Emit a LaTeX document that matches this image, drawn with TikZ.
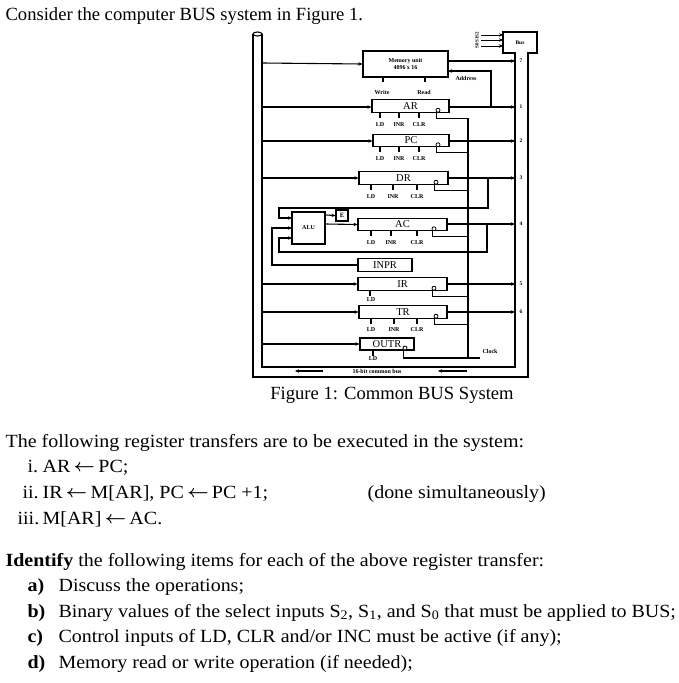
\documentclass[tikz,border=0pt]{standalone}
\usepackage{fontspec}
\setmainfont{Liberation Serif}
\usetikzlibrary{arrows.meta}
\newcommand{\larr}{\,\raisebox{0.1ex}{$\boldsymbol{\leftarrow}$}\,}
\usepackage{amsmath,amssymb,bm}
\begin{document}
\begin{tikzpicture}[x=1pt,y=-1pt,line width=1.1pt,
 reg/.style={draw,rectangle,inner sep=0pt,font=\fontsize{10.5}{10}\selectfont},
 sm/.style={font=\fontsize{6}{6}\selectfont\bfseries,inner sep=0pt},
 num/.style={font=\fontsize{5.5}{5}\selectfont\bfseries,inner sep=0pt},
 ar/.style={-{Stealth[length=4pt,width=3.5pt]}},
 txt/.style={anchor=base west,inner sep=0pt,font=\fontsize{18.6}{20}\selectfont},
 ltxt/.style={txt,xscale=1.075},
 lab/.style={anchor=base west,inner sep=0pt,xscale=1.075,font=\fontsize{18.6}{20}\selectfont\bfseries}]
\useasboundingbox (0,0) rectangle (678,683);
% bus
\draw (253,34) -- (253,377) -- (528,377) -- (528,53);
\draw (262,34) -- (262,367) -- (515,367) -- (515,53);
\draw[fill=white] (257.5,34) ellipse (4.5 and 2);
\node[draw,minimum width=34pt,minimum height=21pt,inner sep=0pt,font=\fontsize{5.5}{5}\selectfont\bfseries] (bus) at (520,42.5) {Bus};
\draw[white,line width=2pt] (516,53) -- (527,53);
\foreach \s/\y in {S2/35,S1/40,S0/46}{
 \node[sm,rotate=90,font=\fontsize{5}{5}\selectfont\bfseries] (\s) at (477,\y) {\s};
 \draw[ar,line width=0.8pt] (481,\y) -- (503,\y);}
% memory
\node[reg,minimum width=85pt,minimum height=26pt,font=\fontsize{6}{7}\selectfont\bfseries,align=center] (mem) at (405.5,64) {Memory unit\\4096 x 16};
\draw (383,77) -- (383,82); \draw (425,77) -- (425,82);
\node[sm] (wr) at (382,92) {Write}; \node[sm] (rd) at (424,92) {Read};
\draw[ar] (262,63) -- (mem.west);
\draw[ar] (448,61) -- (515,61); \node[num] (n7) at (521,61) {7};
\node[sm] (addr) at (466,78) {Address};
% registers
\def\regdef#1#2#3#4#5{\node[reg,minimum width=#4pt,minimum height=12.5pt] (#1) at (#2,#3) {#5};}
\regdef{AR}{410.5}{106}{77}{AR}
\regdef{PC}{411}{140.5}{76}{PC}
\regdef{DR}{403.5}{178}{89}{DR}
\regdef{AC}{402.5}{224.5}{89}{AC}
\node[reg,minimum width=54pt,minimum height=13pt] (INPR) at (385,265) {INPR};
\regdef{IR}{402.5}{284}{89}{IR}
\regdef{TR}{403}{312}{88}{TR}
\node[reg,minimum width=54pt,minimum height=12pt] (OUTR) at (387,344) {OUTR};
\node[draw,minimum width=33pt,minimum height=32pt,inner sep=0pt,font=\fontsize{6}{6}\selectfont\bfseries] (ALU) at (308.5,228) {ALU};
\node[draw,minimum width=12pt,minimum height=11pt,inner sep=0pt,font=\fontsize{6.5}{6}\selectfont\bfseries] (E) at (342,215.5) {E};
% bus inputs / outputs
\foreach \r/\y in {AR/107,PC/141,DR/178,IR/284,TR/312,OUTR/344}{\draw[ar] (262,\y) -- (\r.west |- 0,\y);}
\foreach \r/\y/\n in {AR/107/1,PC/141/2,DR/178/3,AC/224/4,IR/284/5,TR/312/6}{
 \draw[ar] (\r.east |- 0,\y) -- (515,\y); \node[num] (l\n) at (521,\y) {\n};}
\draw[ar] (491,107) -- (491,71) -- (448,71);
% control ticks
\foreach \r/\a/\b/\c/\ly in {AR/380/399/419/125,PC/380/399/419/159,DR/371/393/417/197,AC/371/391/417/243,TR/371/394/417/330}{
 \draw (\a,0 |- \r.south) -- ++(0,5); \draw (\b,0 |- \r.south) -- ++(0,5); \draw (\c,0 |- \r.south) -- ++(0,5);
 \node[sm] at (\a,\ly) {LD}; \node[sm] at (\b,\ly) {INR}; \node[sm] at (\c,\ly) {CLR};}
\draw (370,0 |- IR.south) -- ++(0,5); \node[sm] at (371,300) {LD};
\draw (373,0 |- OUTR.south) -- ++(0,5); \node[sm] at (373,359) {LD};
% clock
\draw (468,118) -- (468,358);
\foreach \x/\b in {438/112.25,438/146.75,436/184.25,434/230.75,434/290.25,436/318.25}{
 \draw[fill=white,line width=0.8pt] (\x,\b-2) circle (2);
 \draw (\x-1.5,\b) -- (\x-1.5,\b+6) -- (468,\b+6);}
\draw[fill=white,line width=0.8pt] (405,348) circle (2);
\draw (403.5,350) -- (403.5,358) -- (480,358);
\node[sm] (clk) at (490,351) {Clock};
% ALU connections
\draw[ar] (488,178) -- (488,208) -- (279,208) -- (279,218) -- (292,218);
\draw[ar] (447,224) -- (487,224) -- (487,252) -- (279,252) -- (279,238) -- (292,238);
\draw[ar] (INPR.west) -- (272,265) -- (272,228) -- (292,228);
\draw[ar] (ALU.east |- 0,215) -- (E.west);
\draw[ar] (ALU.east |- 0,224) -- (AC.west);
% bus caption
\node[sm] (cb) at (377,371) {16-bit common bus};
\draw[ar] (323,371) -- (295,371); \draw[ar] (467,371) -- (438,371);
\node[font=\fontsize{18.6}{20}\selectfont,inner sep=0pt] (cap) at (392,395) {Figure 1: Common BUS System};
% text
\node[txt] (t0) at (5,20) {Consider the computer BUS system in Figure 1.};
\node[ltxt] (t1) at (5,447) {The following register transfers are to be executed in the system:};
\node[ltxt] (t2a) at (27,472) {i.}; \node[ltxt] (t2) at (42,472) {AR\larr PC;};
\node[ltxt] (t3a) at (22,498) {ii.}; \node[ltxt] (t3) at (42,498) {IR\larr M[AR], PC\larr PC +1;};
\node[ltxt] (t3b) at (367,498) {(done simultaneously)};
\node[ltxt] (t4a) at (17,524) {iii.}; \node[ltxt] (t4) at (42,524) {M[AR]\larr AC.};
\node[ltxt] (t5) at (5,566) {\textbf{Identify} the following items for each of the above register transfer:};
\node[lab] (a) at (27,591) {a)}; \node[ltxt] (ta) at (58,591) {Discuss the operations;};
\node[lab] (b) at (27,617) {b)}; \node[ltxt] (tb) at (58,617) {Binary values of the select inputs S\textsubscript{2}, S\textsubscript{1}, and S\textsubscript{0} that must be applied to BUS;};
\node[lab] (c) at (27,642) {c)}; \node[ltxt] (tc) at (58,642) {Control inputs of LD, CLR and/or INC must be active (if any);};
\node[lab] (d) at (27,668) {d)}; \node[ltxt] (td) at (58,668) {Memory read or write operation (if needed);};
\end{tikzpicture}
\end{document}
